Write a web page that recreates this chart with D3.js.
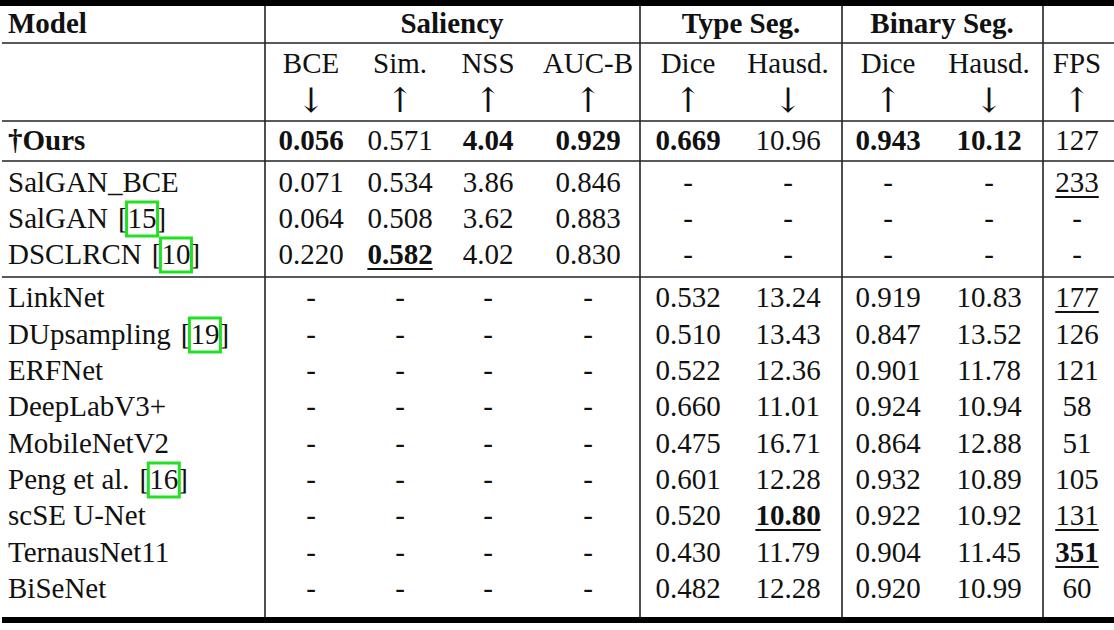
<!DOCTYPE html>
<html lang="en">
<head>
<meta charset="utf-8">
<title>Results table</title>
<style>
  body { margin: 0; background: #fff; }
  text { font-family: "Liberation Serif", "DejaVu Serif", serif; fill: #111; }
  text.arrow { font-family: "DejaVu Serif", serif; }
</style>
</head>
<body>
<svg id="tbl" width="1114" height="630"></svg>
<script src="https://d3js.org/d3.v7.min.js"></script>
<script>
// table data; "*" prefix = bold, "_" prefix = underline (both may be combined)
var groups = ["Saliency", "Type Seg.", "Binary Seg."];
var metrics = ["BCE", "Sim.", "NSS", "AUC-B", "Dice", "Hausd.", "Dice", "Hausd.", "FPS"];
var arrows = ["↓", "↑", "↑", "↑", "↑", "↓", "↑", "↓", "↑"];
var models = ["†Ours", "SalGAN_BCE", "SalGAN", "DSCLRCN", "LinkNet", "DUpsampling", "ERFNet",
  "DeepLabV3+", "MobileNetV2", "Peng et al.", "scSE U-Net", "TernausNet11", "BiSeNet"];
var cites = [null, null, "15", "10", null, "19", null, null, null, "16", null, null, null];
var values = [
  ["*0.056", "0.571", "*4.04", "*0.929", "*0.669", "10.96", "*0.943", "*10.12", "127"],
  ["0.071", "0.534", "3.86", "0.846", "-", "-", "-", "-", "_233"],
  ["0.064", "0.508", "3.62", "0.883", "-", "-", "-", "-", "-"],
  ["0.220", "*_0.582", "4.02", "0.830", "-", "-", "-", "-", "-"],
  ["-", "-", "-", "-", "0.532", "13.24", "0.919", "10.83", "_177"],
  ["-", "-", "-", "-", "0.510", "13.43", "0.847", "13.52", "126"],
  ["-", "-", "-", "-", "0.522", "12.36", "0.901", "11.78", "121"],
  ["-", "-", "-", "-", "0.660", "11.01", "0.924", "10.94", "58"],
  ["-", "-", "-", "-", "0.475", "16.71", "0.864", "12.88", "51"],
  ["-", "-", "-", "-", "0.601", "12.28", "0.932", "10.89", "105"],
  ["-", "-", "-", "-", "0.520", "*_10.80", "0.922", "10.92", "_131"],
  ["-", "-", "-", "-", "0.430", "11.79", "0.904", "11.45", "*_351"],
  ["-", "-", "-", "-", "0.482", "12.28", "0.920", "10.99", "60"]
];

var svg = d3.select("#tbl");
var FS = 29;

// column centres and row centres
var colX = d3.scaleOrdinal().domain(d3.range(9))
  .range([311, 400, 488, 588, 688, 788, 888, 989, 1077]);
var rowY = d3.scaleOrdinal().domain(d3.range(13))
  .range([140, 182, 218, 254, 297, 334, 370, 406, 443, 479, 515, 552, 588]);

// rules
svg.append("rect").attr("x", 0).attr("y", 0).attr("width", 1114).attr("height", 6).attr("fill", "#000");
svg.append("rect").attr("x", 2).attr("y", 617).attr("width", 1112).attr("height", 6).attr("fill", "#000");
[43, 121, 161, 277].forEach(function (y) {
  svg.append("line").attr("x1", 2).attr("x2", 1114).attr("y1", y).attr("y2", y)
    .attr("stroke", "#222").attr("stroke-width", 1.6);
});
[265, 640, 842, 1043].forEach(function (x) {
  svg.append("line").attr("x1", x).attr("x2", x).attr("y1", 6).attr("y2", 617)
    .attr("stroke", "#222").attr("stroke-width", 1.6);
});

// header row
svg.append("text").attr("x", 8).attr("y", 33).attr("font-size", FS).attr("font-weight", "bold").text("Model");
var groupX = [452, 741, 942];
groups.forEach(function (g, i) {
  svg.append("text").attr("x", groupX[i]).attr("y", 33).attr("text-anchor", "middle")
    .attr("font-size", FS).attr("font-weight", "bold").text(g);
});
metrics.forEach(function (m, i) {
  svg.append("text").attr("x", colX(i)).attr("y", 73).attr("text-anchor", "middle")
    .attr("font-size", FS).text(m);
  svg.append("text").attr("class", "arrow").attr("x", colX(i)).attr("y", 112).attr("text-anchor", "middle")
    .attr("font-size", 34).text(arrows[i]);
});

// model names with green citation boxes
models.forEach(function (m, r) {
  var y = rowY(r) + 10;
  var t = svg.append("text").attr("x", 8).attr("y", y).attr("font-size", FS)
    .attr("font-weight", r === 0 ? "bold" : "normal").text(m);
  if (cites[r]) {
    var x = 8 + t.node().getComputedTextLength() + 10;
    var lb = svg.append("text").attr("x", x).attr("y", y).attr("font-size", FS).text("[");
    x += lb.node().getComputedTextLength();
    var c = svg.append("text").attr("x", x).attr("y", y).attr("font-size", FS).text(cites[r]);
    var cw = c.node().getComputedTextLength();
    svg.append("text").attr("x", x + cw).attr("y", y).attr("font-size", FS).text("]");
    svg.append("rect").attr("x", x - 1).attr("y", rowY(r) - 16).attr("width", cw + 2).attr("height", 34)
      .attr("fill", "none").attr("stroke", "#22e022").attr("stroke-width", 3);
  }
});

// values
values.forEach(function (row, r) {
  row.forEach(function (v, c) {
    var bold = v.indexOf("*") >= 0, under = v.indexOf("_") >= 0;
    var s = v.replace(/[*_]/g, "");
    var t = svg.append("text").attr("x", colX(c)).attr("y", rowY(r) + 10).attr("text-anchor", "middle")
      .attr("font-size", FS).attr("font-weight", bold ? "bold" : "normal").text(s);
    if (under) {
      var w = t.node().getComputedTextLength();
      svg.append("line").attr("x1", colX(c) - w / 2).attr("x2", colX(c) + w / 2)
        .attr("y1", rowY(r) + 15).attr("y2", rowY(r) + 15).attr("stroke", "#111").attr("stroke-width", 2);
    }
  });
});
</script>
</body>
</html>
